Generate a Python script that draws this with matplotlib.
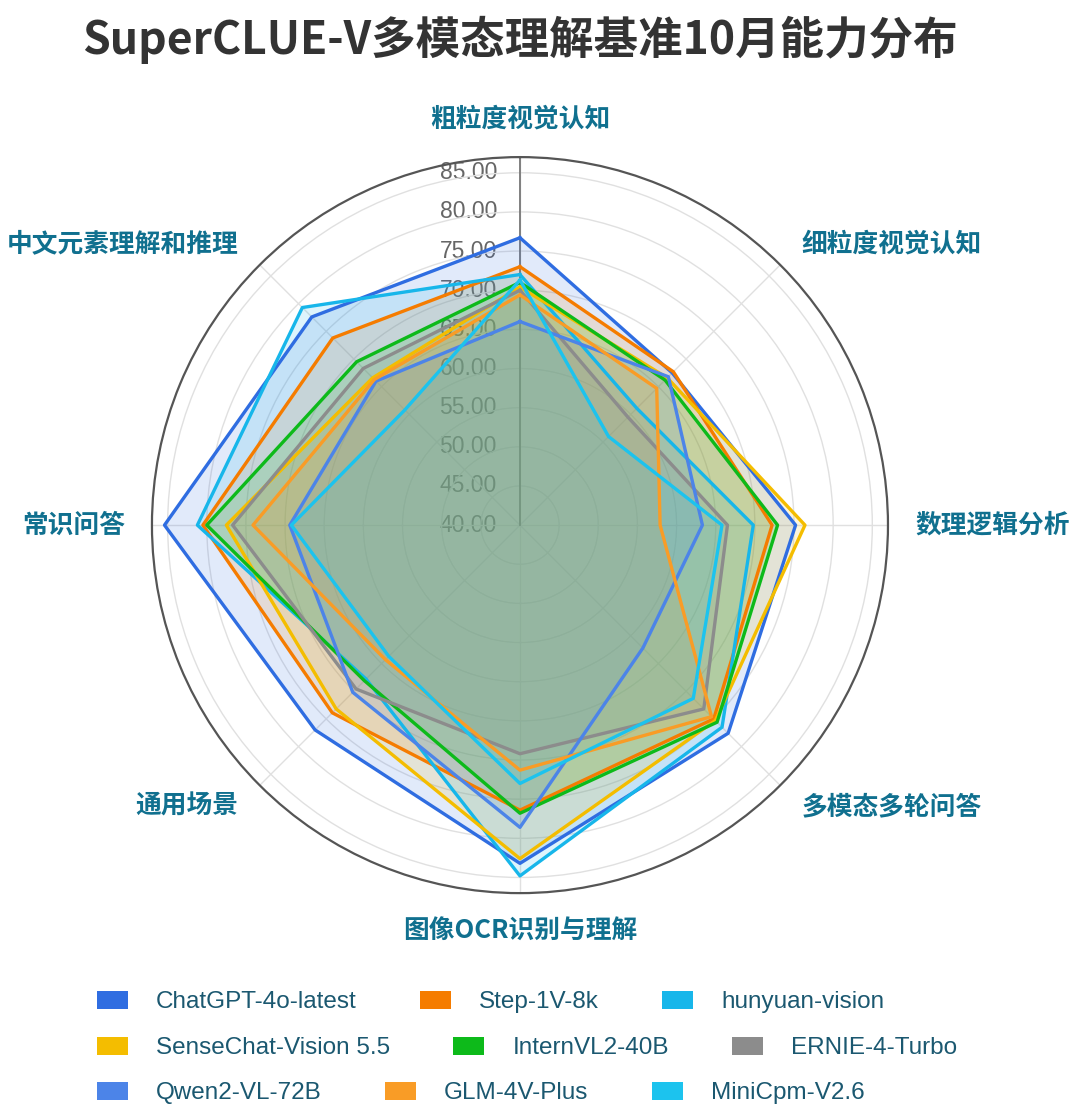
import numpy as np
import matplotlib
matplotlib.use("Agg")
from matplotlib import pyplot as plt
from matplotlib.patches import Patch
from matplotlib.transforms import ScaledTranslation

plt.rcParams['font.family'] = ['Noto Sans CJK SC', 'DejaVu Sans']

# axes, clockwise from the top
dimensions = ['粗粒度视觉认知', '细粒度视觉认知', '数理逻辑分析', '多模态多轮问答',
              '图像OCR识别与理解', '通用场景', '常识问答', '中文元素理解和推理']

models = ['ChatGPT-4o-latest', 'Step-1V-8k', 'hunyuan-vision',
          'SenseChat-Vision 5.5', 'InternVL2-40B', 'ERNIE-4-Turbo',
          'Qwen2-VL-72B', 'GLM-4V-Plus', 'MiniCpm-V2.6']
colors = ['#2f6de1', '#f57c00', '#17b6ea',
          '#f4bd00', '#0dba1a', '#8c8c8c',
          '#4c84e8', '#f99c26', '#1cc3ee']

# values
chatgpt = [76.7, 67.5, 75.2, 77.6, 83.2, 77.0, 85.4, 77.6]
step = [73.0, 67.7, 72.2, 75.0, 76.4, 73.9, 80.5, 73.8]
hunyuan = [72.0, 61.1, 69.8, 76.5, 84.8, 67.8, 81.2, 79.3]
sensechat = [70.4, 66.6, 76.4, 75.3, 82.6, 73.2, 77.5, 66.6]
internvl = [71.0, 66.2, 72.9, 75.6, 76.8, 68.1, 80.0, 69.5]
ernie = [70.0, 59.5, 66.5, 73.2, 69.2, 69.6, 76.7, 68.3]
qwen = [66.0, 66.8, 63.3, 62.2, 78.6, 70.2, 69.4, 66.0]
glm = [69.4, 64.7, 57.9, 74.6, 71.3, 64.3, 74.1, 66.3]
minicpm = [71.3, 56.0, 65.8, 71.3, 73.0, 63.7, 69.2, 60.8]
series = [chatgpt, step, hunyuan, sensechat, internvl, ernie, qwen, glm, minicpm]

ticks = [40, 45, 50, 55, 60, 65, 70, 75, 80, 85]
rmin, rmax = 40, 87

fig = plt.figure(figsize=(10.8, 11.15), dpi=100)
ax = fig.add_axes([0.1407, 0.199, 0.6815, 0.6601], projection='polar')
ax.set_theta_offset(np.pi / 2)
ax.set_theta_direction(-1)
ax.set_ylim(rmin, rmax)

angles = np.linspace(0, 2 * np.pi, len(dimensions), endpoint=False)
ax.set_xticks(angles)
ax.set_xticklabels([])
ax.set_yticks(ticks[1:])
ax.set_yticklabels([])
ax.tick_params(length=0)
ax.grid(color='#e0e0e0', lw=1)
ax.spines['polar'].set_color('#555555')
ax.spines['polar'].set_linewidth(1.6)

# radial axis line and its labels
ax.plot([0, 0], [rmin, rmax], color='#777777', lw=1.3, zorder=1.6)
shift = ScaledTranslation(-0.23, 0, fig.dpi_scale_trans)
for t in ticks:
    ax.text(0, t, f'{t:.2f}', transform=ax.transData + shift, ha='right',
            va='center', fontsize=16.5, color='#666666', zorder=1.5,
            family=['Liberation Sans', 'DejaVu Sans'])

closed = np.append(angles, angles[0])
for vals, name, c in zip(series, models, colors):
    v = np.append(vals, vals[0])
    ax.fill(closed, v, color=c, alpha=0.14, zorder=2, lw=0)
    ax.plot(closed, v, color=c, lw=2.4, zorder=3)

# category names around the circle
for a, name in zip(angles, dimensions):
    s, co = np.sin(a), np.cos(a)
    d = 0.27 + 0.11 * abs(co) ** 4
    off = ScaledTranslation(s * d, co * d, fig.dpi_scale_trans)
    ha = 'left' if s > 0.1 else ('right' if s < -0.1 else 'center')
    ax.text(a, rmax, name, transform=ax.transData + off, ha=ha, va='center',
            fontsize=18.5, color='#10708f', fontweight='bold', clip_on=False)

fig.text(0.4815, 1 - 40 / 1115, 'SuperCLUE-V多模态理解基准10月能力分布',
         ha='center', va='center', fontsize=32, fontweight='bold', color='#333333')

# legend, three rows laid out one after another
row_y = [1002, 1048, 1093]
for r, y in enumerate(row_y):
    idx = range(r * 3, r * 3 + 3)
    handles = [Patch(facecolor=colors[i], edgecolor='none') for i in idx]
    fig.legend(handles, [models[i] for i in idx], ncol=3, loc='center left',
               bbox_to_anchor=(97 / 1080, 1 - y / 1115), frameon=False,
               prop={'family': 'Liberation Sans', 'size': 17.5},
               labelcolor='#1b5870', handlelength=1.28, handleheight=0.82,
               handletextpad=1.15, columnspacing=2.6, borderpad=0,
               borderaxespad=0)

fig.savefig('out.png', dpi=100)
